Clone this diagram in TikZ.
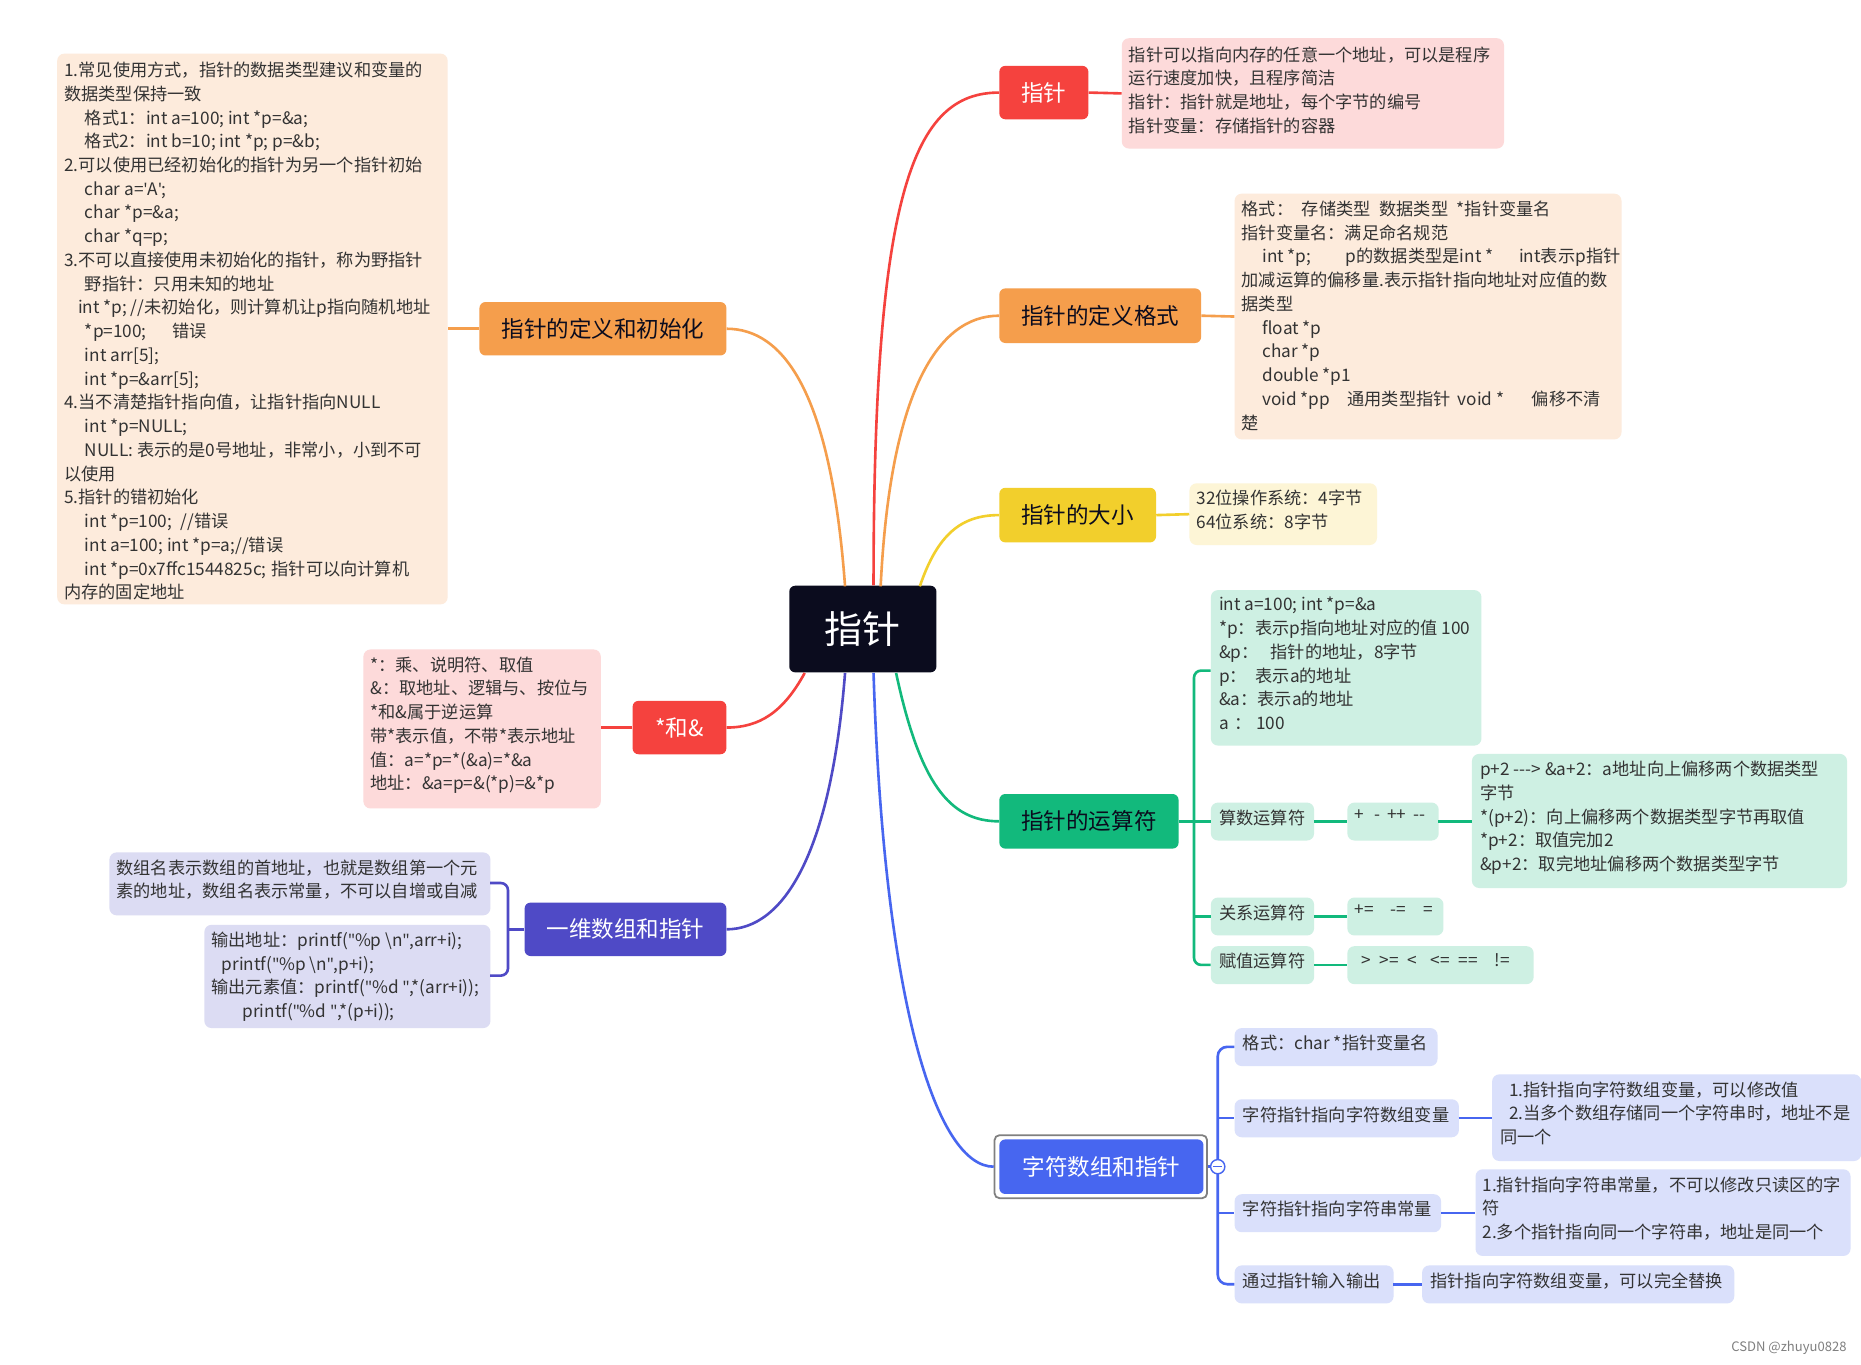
\documentclass[tikz,border=0pt]{standalone}
\usepackage{fontspec}
\setmainfont{Noto Sans CJK SC}[Ligatures=ResetAll]
\newfontfamily\latf{Noto Sans}
\newcommand{\dq}{{\latf"}}
\newcommand{\sq}{{\latf'}}
\definecolor{cred}{HTML}{F5423E}
\definecolor{fred}{HTML}{FDDADA}
\definecolor{cor}{HTML}{F59E4C}
\definecolor{for}{HTML}{FDEBDC}
\definecolor{cye}{HTML}{F2CF2C}
\definecolor{fye}{HTML}{FDF5D6}
\definecolor{cgr}{HTML}{12B97C}
\definecolor{fgr}{HTML}{CEF0E3}
\definecolor{cpu}{HTML}{4F4AC6}
\definecolor{fpu}{HTML}{DCDCF3}
\definecolor{cbl}{HTML}{4766F0}
\definecolor{fbl}{HTML}{DAE0FB}
\definecolor{cdk}{HTML}{0B0C1E}
\definecolor{tx}{HTML}{333333}
\newcommand{\ind}{\hspace*{1.2em}}
\begin{document}
\begin{tikzpicture}[x=1pt,y=-1pt,
  bg/.style={rounded corners=6pt,inner sep=0pt,anchor=north west},
  txt/.style={inner sep=0pt,anchor=north west,align=left,text=tx,font=\fontsize{14.5}{20}\selectfont,yshift=1pt},
  br/.style={rounded corners=5pt,inner sep=0pt,text=white,font=\fontsize{19}{22}\selectfont},
  ln/.style={line width=2.2pt}]
\useasboundingbox (0,0) rectangle (1568,1150);
\fill[white] (0,0) rectangle (1568,1150);
% center
\node[br,fill=cdk,minimum width=124pt,minimum height=73pt,font=\fontsize{32}{36}\selectfont] (c) at (727,530) {指针};
% branches
\node[br,fill=cred,minimum width=75pt,minimum height=45pt] (b1) at (879.5,78) {指针};
\node[br,fill=cor,minimum width=170pt,minimum height=46pt,text=cdk] (b2) at (927,266) {指针的定义格式};
\node[br,fill=cye,minimum width=132pt,minimum height=46pt,text=cdk] (b3) at (908,434) {指针的大小};
\node[br,fill=cgr,minimum width=151pt,minimum height=46pt,text=cdk] (b4) at (917.5,692) {指针的运算符};
\node[draw=gray,line width=1.5pt,rounded corners=4pt,minimum width=179pt,minimum height=53pt] (b5o) at (927.5,983) {};
\node[br,fill=cbl,minimum width=172pt,minimum height=46pt] (b5) at (928,983) {字符数组和指针};
\node[br,fill=cor,minimum width=208pt,minimum height=45pt,text=cdk] (l1) at (508,277) {指针的定义和初始化};
\node[br,fill=cred,minimum width=79pt,minimum height=45pt] (l2) at (572.5,613) {*和\&};
\node[br,fill=cpu,minimum width=170pt,minimum height=45pt] (l3) at (527,783) {一维数组和指针};
% main curves
\draw[ln,cred] (c.north)++(9,0) .. controls (736,160) and (770,78) .. (b1.west);
\draw[ln,cor] (742,494) .. controls (750,330) and (790,266) .. (b2.west);
\draw[ln,cye] (775,494) .. controls (790,450) and (810,434) .. (b3.west);
\draw[ln,cgr] (755,567) .. controls (775,660) and (800,692) .. (b4.west);
\draw[ln,cbl] (736,567) .. controls (745,850) and (790,983) .. (b5o.west);
\draw[ln,cor] (712,494) .. controls (700,330) and (660,277) .. (l1.east);
\draw[ln,cred] (678,567) .. controls (660,600) and (640,613) .. (l2.east);
\draw[ln,cpu] (712,567) .. controls (700,720) and (660,783) .. (l3.east);
% notes
\node[bg,fill=fred,minimum width=322pt,minimum height=93pt] (n1) at (945,32) {};
\node[txt] (t1) at (951,40) {指针可以指向内存的任意一个地址，可以是程序\\运行速度加快，且程序简洁\\指针：指针就是地址，每个字节的编号\\指针变量：存储指针的容器};
\draw[ln,cred] (b1.east) -- (n1.west);
\node[bg,fill=for,minimum width=326pt,minimum height=207pt] (n2) at (1040,163) {};
\node[txt] (t2) at (1046,170) {格式：\hspace{0.5em}存储类型\hspace{0.5em}数据类型\hspace{0.5em}*指针变量名\\指针变量名：满足命名规范\\\ind int *p;\hspace{2em}p的数据类型是int *\hspace{1.5em}int表示p指针\\加减运算的偏移量.表示指针指向地址对应值的数\\据类型\\\ind float *p\\\ind char *p\\\ind double *p1\\\ind void *pp\hspace{1em}通用类型指针\hspace{0.4em}void *\hspace{1.6em}偏移不清\\楚};
\draw[ln,cor] (b2.east) -- (n2.west);
\node[bg,fill=fye,minimum width=158pt,minimum height=52pt] (n3) at (1002,407) {};
\node[txt] (t3) at (1008,414) {32位操作系统：4字节\\64位系统：8字节};
\draw[ln,cye] (b3.east) -- (n3.west);
\node[bg,fill=for,minimum width=329pt,minimum height=464pt] (n4) at (48,45) {};
\node[txt] (t4) at (54,53) {1.常见使用方式，指针的数据类型建议和变量的\\数据类型保持一致\\\ind 格式1：int a=100; int *p=\&a;\\\ind 格式2：int b=10; int *p; p=\&b;\\2.可以使用已经初始化的指针为另一个指针初始\\\ind char a=\sq A\sq;\\\ind char *p=\&a;\\\ind char *q=p;\\3.不可以直接使用未初始化的指针，称为野指针\\\ind 野指针：只用未知的地址\\\hspace*{0.8em}int *p; //未初始化，则计算机让p指向随机地址\\\ind *p=100;\hspace{1.5em}错误\\\ind int arr[5];\\\ind int *p=\&arr[5];\\4.当不清楚指针指向值，让指针指向NULL\\\ind int *p=NULL;\\\ind NULL: 表示的是0号地址，非常小，小到不可\\以使用\\5.指针的错初始化\\\ind int *p=100;\hspace{0.5em}//错误\\\ind int a=100; int *p=a;//错误\\\ind int *p=0x7ffc1544825c;\hspace{0.3em}指针可以向计算机\\内存的固定地址};
\draw[ln,cor] (l1.west) -- (n4.east |- l1.west);
\node[bg,fill=fred,minimum width=200pt,minimum height=134pt] (n5) at (306,547) {};
\node[txt] (t5) at (312,554) {*：乘、说明符、取值\\\&：取地址、逻辑与、按位与\\*和\&属于逆运算\\带*表示值，不带*表示地址\\值：a=*p=*(\&a)=*\&a\\地址：\&a=p=\&(*p)=\&*p};
\draw[ln,cred] (l2.west) -- (n5.east |- l2.west);
\node[bg,fill=fpu,minimum width=321pt,minimum height=53pt] (n6) at (92,718) {};
\node[txt] (t6) at (98,725) {数组名表示数组的首地址，也就是数组第一个元\\素的地址，数组名表示常量，不可以自增或自减};
\node[bg,fill=fpu,minimum width=241pt,minimum height=87pt] (n7) at (172,779) {};
\node[txt] (t7) at (178,786) {输出地址：printf(\dq\%p \textbackslash n\dq,arr+i);\\\hspace*{0.6em}printf(\dq\%p \textbackslash n\dq,p+i);\\输出元素值：printf(\dq\%d \dq,*(arr+i));\\\hspace*{1.8em}printf(\dq\%d \dq,*(p+i));};
\draw[ln,cpu] (l3.west) -- (428,783);
\draw[ln,cpu,rounded corners=6pt] (413,744) -- (428,744) -- (428,822) -- (413,822);
% green
\node[bg,fill=fgr,minimum width=228pt,minimum height=131pt] (g0) at (1020,497) {};
\node[txt] (tg0) at (1027,504) {int a=100; int *p=\&a\\*p：表示p指向地址对应的值 100\\\&p：\hspace{0.7em}指针的地址，8字节\\p：\hspace{0.5em}表示a的地址\\\&a：表示a的地址\\a\hspace{0.3em}：\hspace{0.3em}100};
\node[bg,fill=fgr,minimum width=87pt,minimum height=32pt] (g1) at (1020,676) {};
\node[txt] at (1027,683) {算数运算符};
\node[bg,fill=fgr,minimum width=77pt,minimum height=32pt] (g1a) at (1135,676) {};
\node[txt] at (1141,683) {+\hspace{0.6em}-\hspace{0.4em}++\hspace{0.4em}-{}-};
\node[bg,fill=fgr,minimum width=316pt,minimum height=113pt] (g1b) at (1240,635) {};
\node[txt] at (1247,642) {p+2 -{}-{}-{}> \&a+2：a地址向上偏移两个数据类型\\字节\\*(p+2)：向上偏移两个数据类型字节再取值\\*p+2：取值完加2\\\&p+2：取完地址偏移两个数据类型字节};
\node[bg,fill=fgr,minimum width=87pt,minimum height=32pt] (g2) at (1020,756) {};
\node[txt] at (1027,763) {关系运算符};
\node[bg,fill=fgr,minimum width=81pt,minimum height=32pt] (g2a) at (1135,756) {};
\node[txt] at (1141,763) {+=\hspace{1em}-=\hspace{1em}=};
\node[bg,fill=fgr,minimum width=87pt,minimum height=32pt] (g3) at (1020,797) {};
\node[txt] at (1027,804) {赋值运算符};
\node[bg,fill=fgr,minimum width=157pt,minimum height=32pt] (g3a) at (1135,797) {};
\node[txt] at (1147,804) {>\hspace{0.5em}>=\hspace{0.5em}<\hspace{0.8em}<=\hspace{0.5em}==\hspace{1em}!=};
\draw[ln,cgr] (b4.east) -- (1006,692);
\draw[ln,cgr,rounded corners=6pt] (1020,565) -- (1006,565) -- (1006,813) -- (1020,813);
\draw[ln,cgr] (1006,692) -- (1020,692) (1006,772) -- (1020,772);
\draw[ln,cgr] (1107,692) -- (1135,692) (1212,692) -- (1240,692) (1107,772) -- (1135,772) (1107,813) -- (1135,813);
% blue
\node[bg,fill=fbl,minimum width=171pt,minimum height=32pt] (h1) at (1040,866) {};
\node[txt] at (1047,873) {格式：char *指针变量名};
\node[bg,fill=fbl,minimum width=189pt,minimum height=32pt] (h2) at (1040,926) {};
\node[txt] at (1047,933) {字符指针指向字符数组变量};
\node[bg,fill=fbl,minimum width=311pt,minimum height=73pt] (h2a) at (1257,905) {};
\node[txt] at (1264,912) {\hspace*{0.5em}1.指针指向字符数组变量，可以修改值\\\hspace*{0.5em}2.当多个数组存储同一个字符串时，地址不是\\同一个};
\node[bg,fill=fbl,minimum width=174pt,minimum height=32pt] (h3) at (1040,1006) {};
\node[txt] at (1047,1013) {字符指针指向字符串常量};
\node[bg,fill=fbl,minimum width=316pt,minimum height=73pt] (h3a) at (1243,985) {};
\node[txt] at (1249,992) {1.指针指向字符串常量，不可以修改只读区的字\\符\\2.多个指针指向同一个字符串，地址是同一个};
\node[bg,fill=fbl,minimum width=134pt,minimum height=32pt] (h4) at (1040,1066) {};
\node[txt] at (1047,1073) {通过指针输入输出};
\node[bg,fill=fbl,minimum width=263pt,minimum height=32pt] (h4a) at (1198,1066) {};
\node[txt] at (1205,1073) {指针指向字符数组变量，可以完全替换};
\draw[ln,cbl] (b5o.east) -- (1026,983);
\draw[ln,cbl,rounded corners=8pt] (1040,882) -- (1026,882) -- (1026,1082) -- (1040,1082);
\draw[ln,cbl] (1026,942) -- (1040,942) (1026,1022) -- (1040,1022);
\draw[ln,cbl] (1229,942) -- (1257,942) (1214,1022) -- (1243,1022) (1174,1082) -- (1198,1082);
\node[circle,draw=cbl,fill=white,line width=1.2pt,minimum size=12pt,inner sep=0pt] (col) at (1026,983) {};
\draw[cbl,line width=1.2pt] (1022,983) -- (1030,983);
\node[inner sep=0pt,anchor=east,text=gray,font=\fontsize{11}{12}\selectfont] (wm) at (1556,1136) {CSDN @zhuyu0828};
\end{tikzpicture}
\end{document}
